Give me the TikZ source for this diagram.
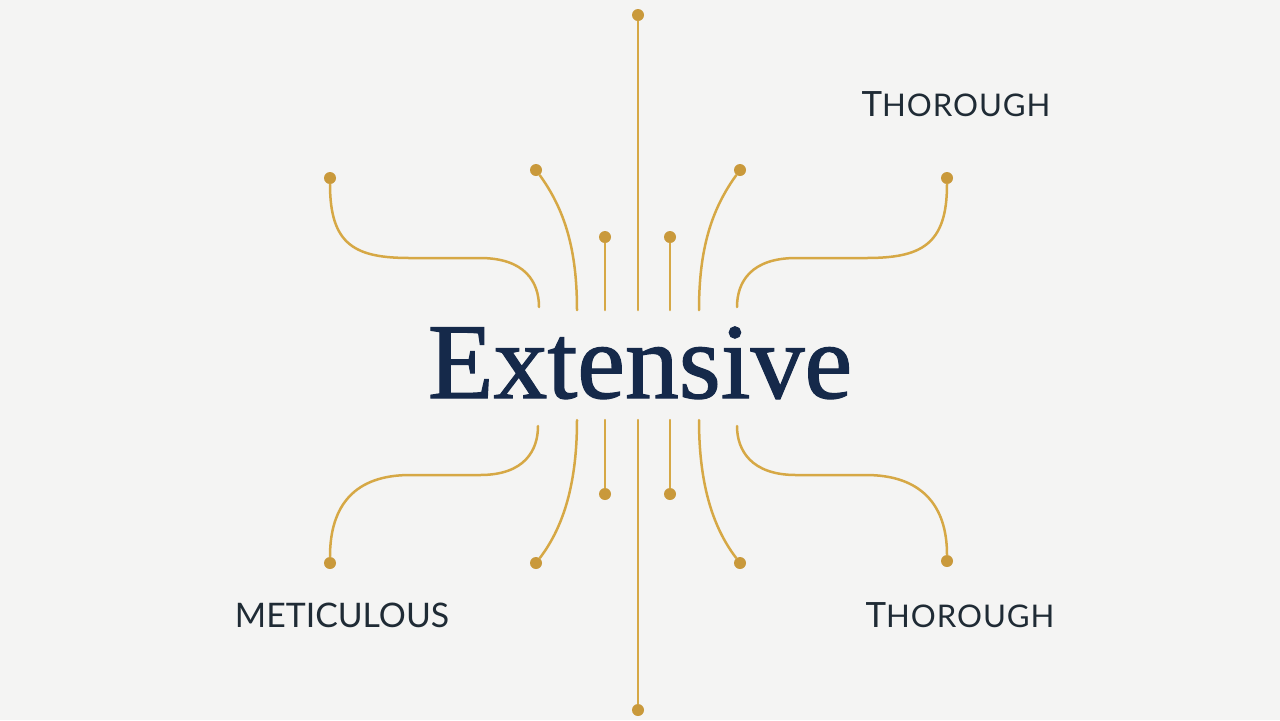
\documentclass[tikz,border=0pt]{standalone}
\usepackage{fontspec}
\setmainfont{Liberation Serif}
\newfontfamily\tagfont{Lato}
\newfontfamily\wideTagfont[LetterSpace=3]{Lato}
\newfontfamily\wordfont[FakeBold=1.2]{Liberation Serif}
\definecolor{paper}{HTML}{F4F4F3}
\definecolor{gold}{HTML}{D6A845}
\definecolor{dotgold}{HTML}{C9993B}
\definecolor{navy}{HTML}{15294A}
\definecolor{ink}{HTML}{1F2B35}

\begin{document}
\begin{tikzpicture}[x=0.5pt, y=-0.5pt,
    wire/.style={draw=gold, line width=1.25pt, line cap=round},
    dot/.style={circle, fill=dotgold, inner sep=0pt, minimum size=6pt},
    tag/.style={text=ink, anchor=base, font=\tagfont\fontsize{16.9}{20}\selectfont},
    smallcap/.style={text=ink, anchor=base, font=\wideTagfont\fontsize{17.4}{20}\selectfont},
    title/.style={text=navy, anchor=base, font=\wordfont\fontsize{53.8}{60}\selectfont}]
  \useasboundingbox (0,0) rectangle (1280,720);
  \fill[paper] (0,0) rectangle (1280,720);

  \node[title] (word) at (640,398) {Extensive};

  % upper half
  \node[dot] (spineN) at (638,15) {};
  \node[dot] (stubNW) at (605,237) {};
  \node[dot] (stubNE) at (670,237) {};
  \node[dot] (arcNW) at (536,170) {};
  \node[dot] (arcNE) at (740,170) {};
  \node[dot] (hookNW) at (330,178) {};
  \node[dot] (hookNE) at (947,178) {};
  \coordinate (spineN-end) at (638,310);
  \coordinate (stubNW-end) at (605,310);
  \coordinate (stubNE-end) at (670,310);
  \coordinate (arcNW-end) at (577,310);
  \coordinate (arcNE-end) at (699,310);
  \coordinate (hookNW-end) at (539,307);
  \coordinate (hookNE-end) at (737,307);

  % lower half
  \node[dot] (spineS) at (638,710) {};
  \node[dot] (stubSW) at (605,494) {};
  \node[dot] (stubSE) at (670,494) {};
  \node[dot] (arcSW) at (536,563) {};
  \node[dot] (arcSE) at (740,563) {};
  \node[dot] (hookSW) at (330,563) {};
  \node[dot] (hookSE) at (947,561) {};
  \coordinate (spineS-end) at (638,420);
  \coordinate (stubSW-end) at (605,420);
  \coordinate (stubSE-end) at (670,420);
  \coordinate (arcSW-end) at (577,420);
  \coordinate (arcSE-end) at (699,420);
  \coordinate (hookSW-end) at (538,426);
  \coordinate (hookSE-end) at (737,426);

  \draw[wire] (spineN) -- (spineN-end);
  \draw[wire] (stubNW) -- (stubNW-end);
  \draw[wire] (stubNE) -- (stubNE-end);
  \draw[wire] (arcNW) .. controls (565,210) and (577,250) .. (arcNW-end);
  \draw[wire] (arcNE) .. controls (711,210) and (699,250) .. (arcNE-end);
  \draw[wire] (hookNW) .. controls (330,245) and (355,258) .. (410,258) -- (480,258)
    .. controls (525,258) and (539,282) .. (hookNW-end);
  \draw[wire] (hookNE) .. controls (947,245) and (921,258) .. (866,258) -- (796,258)
    .. controls (751,258) and (737,282) .. (hookNE-end);

  \draw[wire] (spineS) -- (spineS-end);
  \draw[wire] (stubSW) -- (stubSW-end);
  \draw[wire] (stubSE) -- (stubSE-end);
  \draw[wire] (arcSW) .. controls (565,525) and (577,480) .. (arcSW-end);
  \draw[wire] (arcSE) .. controls (711,525) and (699,480) .. (arcSE-end);
  \draw[wire] (hookSW) .. controls (330,505) and (355,475) .. (410,475) -- (480,475)
    .. controls (525,475) and (538,450) .. (hookSW-end);
  \draw[wire] (hookSE) .. controls (947,505) and (921,475) .. (866,475) -- (796,475)
    .. controls (751,475) and (737,450) .. (hookSE-end);

  % words round the edge
  \node[smallcap] (thoroughN) at (956,116) {T{\fontsize{15.6}{18}\selectfont HOROUGH}};
  \node[tag] (meticulous) at (342,627) {METICULOUS};
  \node[smallcap] (thoroughS) at (960,627) {T{\fontsize{15.6}{18}\selectfont HOROUGH}};
\end{tikzpicture}
\end{document}
